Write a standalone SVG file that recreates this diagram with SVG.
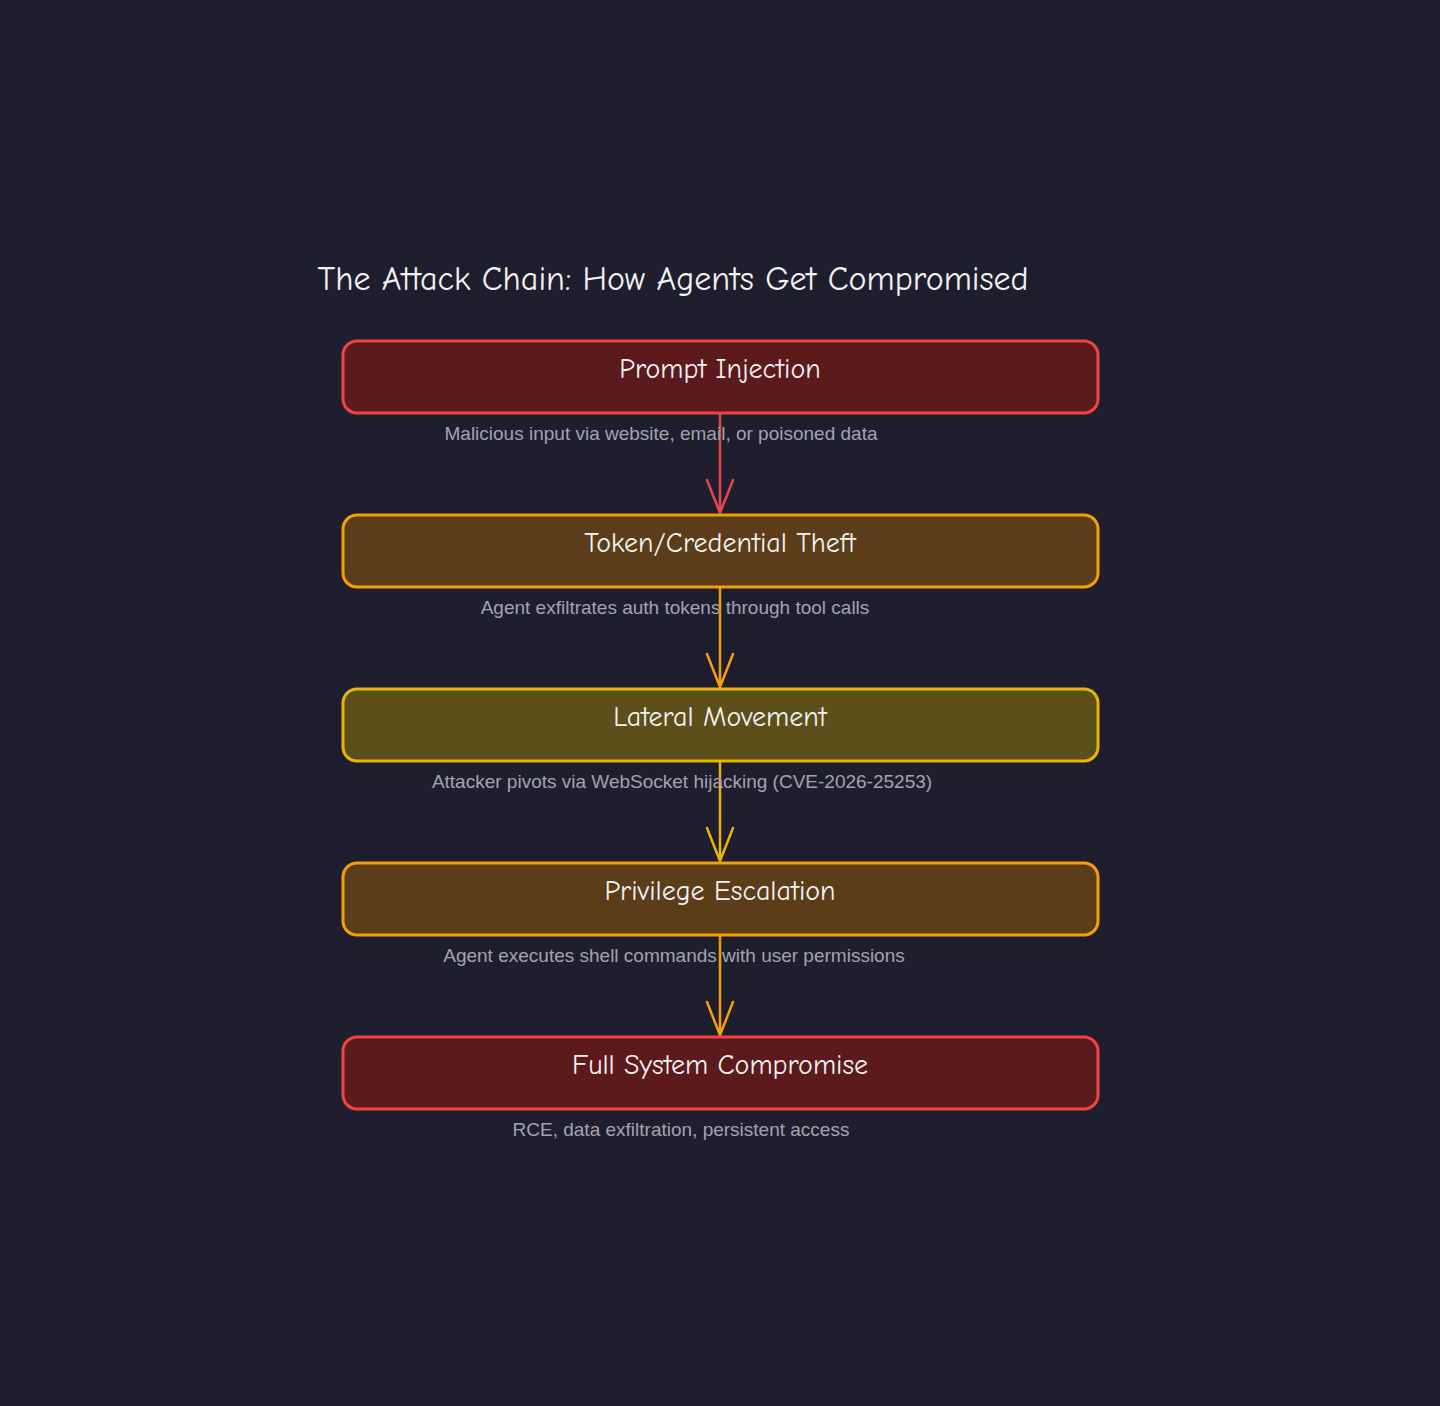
<svg xmlns="http://www.w3.org/2000/svg" width="1440" height="1406" viewBox="0 0 1440 1406">
<defs>
<style>
.t{font-family:"Comic Neue","Liberation Sans",sans-serif;fill:#f2f2f2;font-size:28px;text-anchor:middle}
.d{font-family:"Liberation Sans",sans-serif;fill:#a3a3ad;font-size:19px;text-anchor:middle}
.red{fill:#5c1a1d;stroke:#ef4444;stroke-width:3}
.org{fill:#5c3d1a;stroke:#f59e0b;stroke-width:3}
.yel{fill:#5c4f1a;stroke:#eab308;stroke-width:3}
.c{fill:none;stroke-width:2.5;stroke-linecap:round}
</style>
</defs>
<rect width="1440" height="1406" fill="#1f1e2e"/>
<text x="673" y="290" class="t" style="font-size:34px">The Attack Chain: How Agents Get Compromised</text>
<g id="connectors">
<path class="c" stroke="#ef4444" d="M720 413V513M707 480L720 513L733 480"/>
<path class="c" stroke="#f59e0b" d="M720 587V687M707 654L720 687L733 654"/>
<path class="c" stroke="#eab308" d="M720 761V861M707 828L720 861L733 828"/>
<path class="c" stroke="#f59e0b" d="M720 935V1035M707 1002L720 1035L733 1002"/>
</g>
<g id="n1"><rect class="red" x="343" y="341" width="755" height="72" rx="14"/><text class="t" x="720" y="378">Prompt Injection</text><text class="d" x="661" y="440">Malicious input via website, email, or poisoned data</text></g>
<g id="n2"><rect class="org" x="343" y="515" width="755" height="72" rx="14"/><text class="t" x="720" y="552">Token/Credential Theft</text><text class="d" x="675" y="614">Agent exfiltrates auth tokens through tool calls</text></g>
<g id="n3"><rect class="yel" x="343" y="689" width="755" height="72" rx="14"/><text class="t" x="720" y="726">Lateral Movement</text><text class="d" x="682" y="788">Attacker pivots via WebSocket hijacking (CVE-2026-25253)</text></g>
<g id="n4"><rect class="org" x="343" y="863" width="755" height="72" rx="14"/><text class="t" x="720" y="900">Privilege Escalation</text><text class="d" x="674" y="962">Agent executes shell commands with user permissions</text></g>
<g id="n5"><rect class="red" x="343" y="1037" width="755" height="72" rx="14"/><text class="t" x="720" y="1074">Full System Compromise</text><text class="d" x="681" y="1136">RCE, data exfiltration, persistent access</text></g>
</svg>
